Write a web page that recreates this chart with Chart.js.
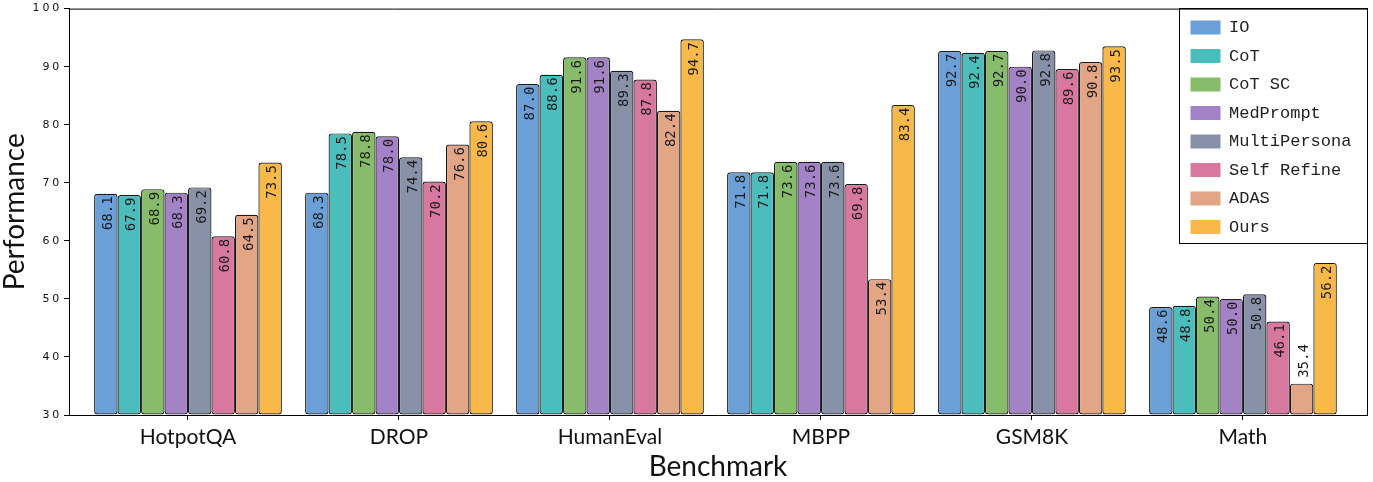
<!DOCTYPE html>
<html><head><meta charset="utf-8">
<script src="https://cdn.jsdelivr.net/npm/chart.js@4.4.0/dist/chart.umd.min.js"></script>
<style>html,body{margin:0;padding:0;background:#fff;overflow:hidden;} #wrap{width:1373px;height:482px;position:relative;background:#fff;}</style>
</head><body><div id="wrap"><canvas id="c" width="1373" height="482"></canvas></div>
<script>
const categories = ['HotpotQA', 'DROP', 'HumanEval', 'MBPP', 'GSM8K', 'Math'];
const methods = ['IO', 'CoT', 'CoT SC', 'MedPrompt', 'MultiPersona', 'Self Refine', 'ADAS', 'Ours'];
const io           = [68.1, 68.3, 87.0, 71.8, 92.7, 48.6];
const cot          = [67.9, 78.5, 88.6, 71.8, 92.4, 48.8];
const cotSc        = [68.9, 78.8, 91.6, 73.6, 92.7, 50.4];
const medPrompt    = [68.3, 78.0, 91.6, 73.6, 90.0, 50.0];
const multiPersona = [69.2, 74.4, 89.3, 73.6, 92.8, 50.8];
const selfRefine   = [60.8, 70.2, 87.8, 69.8, 89.6, 46.1];
const adas         = [64.5, 76.6, 82.4, 53.4, 90.8, 35.4];
const ours         = [73.5, 80.6, 94.7, 83.4, 93.5, 56.2];
const yTicks = [30, 40, 50, 60, 70, 80, 90, 100];

const seriesValues = [io, cot, cotSc, medPrompt, multiPersona, selfRefine, adas, ours];
const colors = ['#6a9fd8', '#4bbdbc', '#87bc6a', '#a482c6', '#8792a9', '#d9789f', '#e2a586', '#f8b948'];

const datasets = methods.map((m, i) => ({
  label: m,
  data: seriesValues[i].map((v, j) => ({x: j, y: v})),
  backgroundColor: colors[i],
  borderColor: '#1a1a1a',
  borderWidth: 1.2,
  borderRadius: 3,
  borderSkipped: false,
  base: 30,
  categoryPercentage: 0.89,
  barPercentage: 1.0
}));

const LEGEND_W = 188, LEGEND_H = 235;

const barLabels = {
  id: 'barLabels',
  afterDatasetsDraw(chart) {
    const ctx = chart.ctx, ys = chart.scales.y;
    chart.data.datasets.forEach((ds, di) => {
      const meta = chart.getDatasetMeta(di);
      meta.data.forEach((bar, j) => {
        const v = ds.data[j].y;
        const inside = v - ys.min >= 10;
        const py = ys.getPixelForValue(inside ? v - 0.45 : v + 1);
        ctx.save();
        ctx.translate(bar.x + 2.5, py);
        ctx.rotate(-Math.PI / 2);
        ctx.textAlign = inside ? 'right' : 'left';
        ctx.textBaseline = 'middle';
        ctx.font = '14px "DejaVu Sans Mono"';
        ctx.fillStyle = '#1a1a1a';
        ctx.fillText(v.toFixed(1), 0, 0);
        ctx.restore();
      });
    });
  }
};

const frame = {
  id: 'frame',
  afterLayout(chart) {
    const lg = chart.legend, ca = chart.chartArea;
    if (lg) {
      lg.left = ca.right - LEGEND_W; lg.right = ca.right;
      lg.top = ca.top - 1; lg.bottom = ca.bottom;
      lg.width = LEGEND_W; lg.height = ca.bottom - lg.top;
    }
    const ys = chart.scales.y;
    if (!ys._lsWrapped) {
      const orig = ys.drawLabels.bind(ys);
      ys.drawLabels = function (a) {
        const c = chart.ctx; c.save(); c.letterSpacing = '2.8px'; orig(a); c.restore();
      };
      ys._lsWrapped = true;
    }
  },
  afterDraw(chart) {
    const ctx = chart.ctx, ca = chart.chartArea, lg = chart.legend;
    ctx.save();
    ctx.strokeStyle = '#000';
    ctx.lineWidth = 1;
    ctx.beginPath();
    ctx.moveTo(ca.left, ca.top + 0.5);
    ctx.lineTo(ca.right + 0.5, ca.top + 0.5);
    ctx.lineTo(ca.right + 0.5, ca.bottom);
    ctx.stroke();
    ctx.strokeRect(Math.round(lg.left) + 0.5, Math.round(lg.top) + 0.5, LEGEND_W, LEGEND_H);
    ctx.restore();
  }
};

new Chart(document.getElementById('c'), {
  type: 'bar',
  data: {datasets},
  plugins: [barLabels, frame],
  options: {
    responsive: false,
    animation: false,
    devicePixelRatio: 1,
    layout: {padding: {left: 0, right: 6, top: 5, bottom: 0}},
    plugins: {
      tooltip: {enabled: false},
      legend: {
        position: 'chartArea',
        fullSize: false,
        align: 'start',
        labels: {
          font: {family: '"Liberation Mono", monospace', size: 17},
          color: '#222',
          boxWidth: 30,
          boxHeight: 14,
          padding: 11.5,
          generateLabels: (chart) => chart.data.datasets.map((ds, i) => ({
            text: ds.label, fillStyle: ds.backgroundColor, strokeStyle: ds.backgroundColor,
            lineWidth: 0, hidden: false, datasetIndex: i, fontColor: '#222'
          }))
        }
      }
    },
    scales: {
      x: {
        type: 'linear',
        offset: false,
        min: -0.564,
        max: 5.588,
        afterBuildTicks: (s) => { s.ticks = categories.map((c, i) => ({value: i})); },
        afterFit: (s) => { s.height = 67; },
        ticks: {
          callback: (v) => categories[v],
          font: {family: 'Lato', size: 21},
          color: '#111',
          padding: 5,
          maxRotation: 0,
          autoSkip: false
        },
        grid: {display: true, offset: false, drawOnChartArea: false, drawTicks: true, tickLength: 5, tickColor: '#000', tickWidth: 1},
        border: {display: true, color: '#000', width: 1},
        title: {display: true, text: 'Benchmark', font: {family: 'Lato', size: 28, lineHeight: 1}, color: '#111', padding: {top: 0, bottom: 1}}
      },
      y: {
        min: 30,
        max: 100,
        afterBuildTicks: (s) => { s.ticks = yTicks.map(v => ({value: v})); },
        afterFit: (s) => { s.width = 69; },
        ticks: {
          font: {family: '"DejaVu Sans"', size: 11},
          color: '#111',
          padding: 2
        },
        grid: {display: true, drawOnChartArea: false, drawTicks: true, tickLength: 5, tickColor: '#000', tickWidth: 1},
        border: {display: true, color: '#000', width: 1},
        title: {display: true, text: 'Performance', font: {family: 'Lato', size: 28, lineHeight: 1}, color: '#111', padding: {top: 1, bottom: 0}}
      }
    }
  }
});
</script></body></html>
